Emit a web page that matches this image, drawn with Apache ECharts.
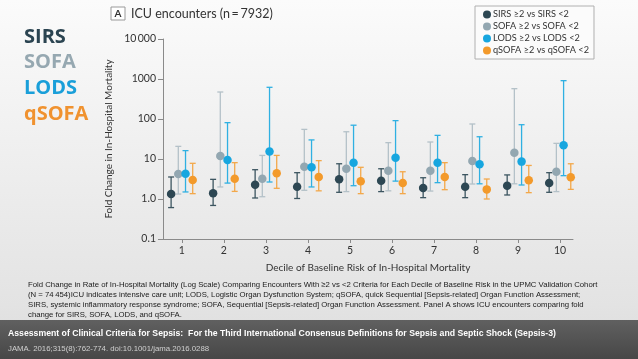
<!DOCTYPE html>
<html><head><meta charset="utf-8">
<script src="https://cdn.jsdelivr.net/npm/echarts@6/dist/echarts.min.js"></script>
<style>html,body{margin:0;padding:0;}#c{width:638px;height:359px;}</style>
</head><body><div id="c"></div>
<script>
const deciles = [1,2,3,4,5,6,7,8,9,10];
const xTickLabels = ['1','2','3','4','5','6','7','8','9','10'];
const yTickValues = [0.1, 1, 10, 100, 1000, 10000];
const yTickLabels = ['0.1','1.0','10','100','1000','10\u2009000'];
const seriesNames = ['SIRS \u22652 vs SIRS <2','SOFA \u22652 vs SOFA <2','LODS \u22652 vs LODS <2','qSOFA \u22652 vs qSOFA <2'];

const sirsMid  = [1.33,1.39,2.28,2.03,3.1,2.87,1.88,2.03,2.15,2.5];
const sirsLow  = [0.61,0.69,1.06,1.03,1.47,1.53,1.08,1.08,1.26,1.47];
const sirsHigh = [3.55,3.1,5.4,4.55,7.6,5.7,3.4,4.06,4.0,4.55];

const sofaMid  = [4.2,11.9,3.2,6.4,5.7,5.1,5.1,8.9,14.4,4.8];
const sofaLow  = [1.33,2.0,1.14,1.65,1.53,1.6,1.58,2.37,2.4,1.53];
const sofaHigh = [20.7,473,12.3,55,48,25.6,26.6,75,573,24.6];

const lodsMid  = [4.3,9.4,15.5,6.2,8.1,10.8,8.1,7.4,8.6,22];
const lodsLow  = [1.5,2.5,2.66,2.0,2.15,2.8,2.56,2.4,2.24,3.83];
const lodsHigh = [16.2,81,620,30,70,91,39,36,72,908];

const qsofaMid  = [3.0,3.2,4.4,3.55,2.77,2.5,3.55,1.74,2.93,3.48];
const qsofaLow  = [1.36,1.55,1.85,1.6,1.36,1.36,1.71,1.0,1.44,1.74];
const qsofaHigh = [7.8,8.1,12.3,9.1,6.2,4.8,8.1,3.16,6.9,7.6];

const captionLines = [
 'Fold Change in Rate of In-Hospital Mortality (Log Scale) Comparing Encounters With \u22652 vs <2 Criteria for Each Decile of Baseline Risk in the UPMC Validation Cohort',
 '(N = 74\u2009454)ICU indicates intensive care unit; LODS, Logistic Organ Dysfunction System; qSOFA, quick Sequential [Sepsis-related] Organ Function Assessment;',
 'SIRS, systemic inflammatory response syndrome; SOFA, Sequential [Sepsis-related] Organ Function Assessment. Panel A shows ICU encounters comparing fold',
 'change for SIRS, SOFA, LODS, and qSOFA.'
];

const dotColors = ['#2d4753','#93a7b1','#17a6df','#f39a2b'];
const barColors = ['#3c5560','#b4c1c8','#2fb0e2','#f3a84a'];
const offsets = [-0.257,-0.086,0.086,0.257];
const mids = [sirsMid, sofaMid, lodsMid, qsofaMid];
const lows = [sirsLow, sofaLow, lodsLow, qsofaLow];
const highs = [sirsHigh, sofaHigh, lodsHigh, qsofaHigh];

const FONT = 'Lato';
const chart = echarts.init(document.getElementById('c'));
const series = [];
for (let s = 0; s < 4; s++) {
  const col = barColors[s];
  series.push({
    type: 'custom', name: 'err' + s, silent: true, z: 2,
    renderItem: function (params, api) {
      const x = api.value(0);
      const p1 = api.coord([x, api.value(1)]);
      const p2 = api.coord([x, api.value(2)]);
      const w = 3;
      const st = {stroke: col, lineWidth: 1.3};
      return {type: 'group', children: [
        {type: 'line', shape: {x1: p1[0], y1: p1[1], x2: p2[0], y2: p2[1]}, style: st},
        {type: 'line', shape: {x1: p1[0]-w, y1: p1[1], x2: p1[0]+w, y2: p1[1]}, style: st},
        {type: 'line', shape: {x1: p2[0]-w, y1: p2[1], x2: p2[0]+w, y2: p2[1]}, style: st}
      ]};
    },
    encode: {x: 0, y: [1, 2]},
    data: deciles.map((d, i) => [d + offsets[s], lows[s][i], highs[s][i]])
  });
}
for (let s = 0; s < 4; s++) {
  series.push({
    type: 'scatter', name: seriesNames[s], z: 5, symbol: 'circle', symbolSize: 8.5,
    itemStyle: {color: dotColors[s], opacity: 1},
    data: deciles.map((d, i) => [d + offsets[s], mids[s][i]])
  });
}

const graphics = [
  {type: 'rect', shape: {x: 0, y: 320, width: 638, height: 39},
   style: {fill: new echarts.graphic.LinearGradient(0,0,0,1,[{offset:0,color:'#606060'},{offset:1,color:'#474747'}])}},
  {type: 'rect', shape: {x: 111, y: 7, width: 14, height: 13}, style: {fill: '#fff', stroke: '#9a9a9a', lineWidth: 1}},
  {type: 'text', x: 118, y: 13.5, style: {text: 'A', font: 'bold 10px ' + FONT, fill: '#333', align: 'center', verticalAlign: 'middle'}},
  {type: 'text', x: 131, y: 13.5, style: {text: 'ICU encounters (n\u2009=\u20097932)', font: '12.5px ' + FONT, fill: '#333', verticalAlign: 'middle'}},
  {type: 'text', x: 24, y: 37, style: {text: 'SIRS', font: 'bold 20px "Open Sans"', fill: '#2b4451', verticalAlign: 'middle'}},
  {type: 'text', x: 24, y: 62, style: {text: 'SOFA', font: 'bold 20px "Open Sans"', fill: '#96a8b1', verticalAlign: 'middle'}},
  {type: 'text', x: 24, y: 88, style: {text: 'LODS', font: 'bold 20px "Open Sans"', fill: '#1a9fd9', verticalAlign: 'middle'}},
  {type: 'text', x: 24, y: 114, style: {text: 'qSOFA', font: 'bold 20px "Open Sans"', fill: '#f0922f', verticalAlign: 'middle'}},
  {type: 'text', x: 8, y: 334, style: {text: 'Assessment of Clinical Criteria for Sepsis:  For the Third International Consensus Definitions for Sepsis and Septic Shock (Sepsis-3)', font: 'bold 8.7px "Liberation Sans"', fill: '#ffffff', verticalAlign: 'middle'}},
  {type: 'text', x: 8, y: 349, style: {text: 'JAMA. 2016;315(8):762-774. doi:10.1001/jama.2016.0288', font: '7.8px "Liberation Sans"', fill: '#d0d0d0', verticalAlign: 'middle'}}
];
captionLines.forEach((t, i) => {
  graphics.push({type: 'text', x: 28, y: 285 + i * 10, style: {text: t, font: '7.75px "Liberation Sans"', fill: '#1a1a1a', verticalAlign: 'middle'}});
});

chart.setOption({
  backgroundColor: new echarts.graphic.LinearGradient(0,0,0,1,[{offset:0,color:'#fbfbfb'},{offset:0.85,color:'#e3e3e3'},{offset:1,color:'#dcdcdc'}]),
  animation: false,
  textStyle: {fontFamily: FONT},
  grid: {left: 163, right: 65, top: 39, bottom: 120},
  legend: {
    data: seriesNames, orient: 'vertical', left: 475, top: 6,
    backgroundColor: '#fbfbfb', borderColor: '#b0b0b0', borderWidth: 1, borderRadius: 0,
    padding: [4, 5, 4, 8], itemGap: 3, itemWidth: 8, itemHeight: 8, icon: 'circle',
    textStyle: {fontFamily: FONT, fontSize: 9.2, lineHeight: 9, color: '#333', padding: [0,0,0,-3]}
  },
  xAxis: {
    type: 'value', min: 0.55, max: 10.31,
    name: 'Decile of Baseline Risk of In-Hospital Mortality', nameLocation: 'middle', nameGap: 24,
    nameTextStyle: {fontFamily: FONT, fontSize: 10, color: '#333'},
    axisLine: {lineStyle: {color: '#8a8a8a', width: 1}},
    axisTick: {show: true, length: 4, customValues: deciles, lineStyle: {color: '#8a8a8a'}},
    axisLabel: {customValues: deciles, margin: 6, fontSize: 10.5, color: '#333', fontFamily: FONT,
      formatter: v => xTickLabels[deciles.indexOf(Math.round(v))]},
    splitLine: {show: false}
  },
  yAxis: {
    type: 'log', logBase: 10, min: 0.1, max: 10000,
    name: 'Fold Change in In-Hospital Mortality', nameLocation: 'middle', nameGap: 40, nameRotate: 90,
    nameTextStyle: {fontFamily: FONT, fontSize: 10, color: '#333'},
    axisLine: {show: true, lineStyle: {color: '#8a8a8a', width: 1}},
    axisTick: {show: true, length: 5, lineStyle: {color: '#8a8a8a'}},
    axisLabel: {margin: 7, fontSize: 10.5, color: '#333', fontFamily: FONT,
      customValues: yTickValues,
      formatter: v => { const i = yTickValues.findIndex(t => Math.abs(Math.log10(t) - Math.log10(v)) < 1e-6); return i >= 0 ? yTickLabels[i] : ''; }},
    splitLine: {show: false}
  },
  graphic: graphics,
  series: series
});
</script></body></html>
